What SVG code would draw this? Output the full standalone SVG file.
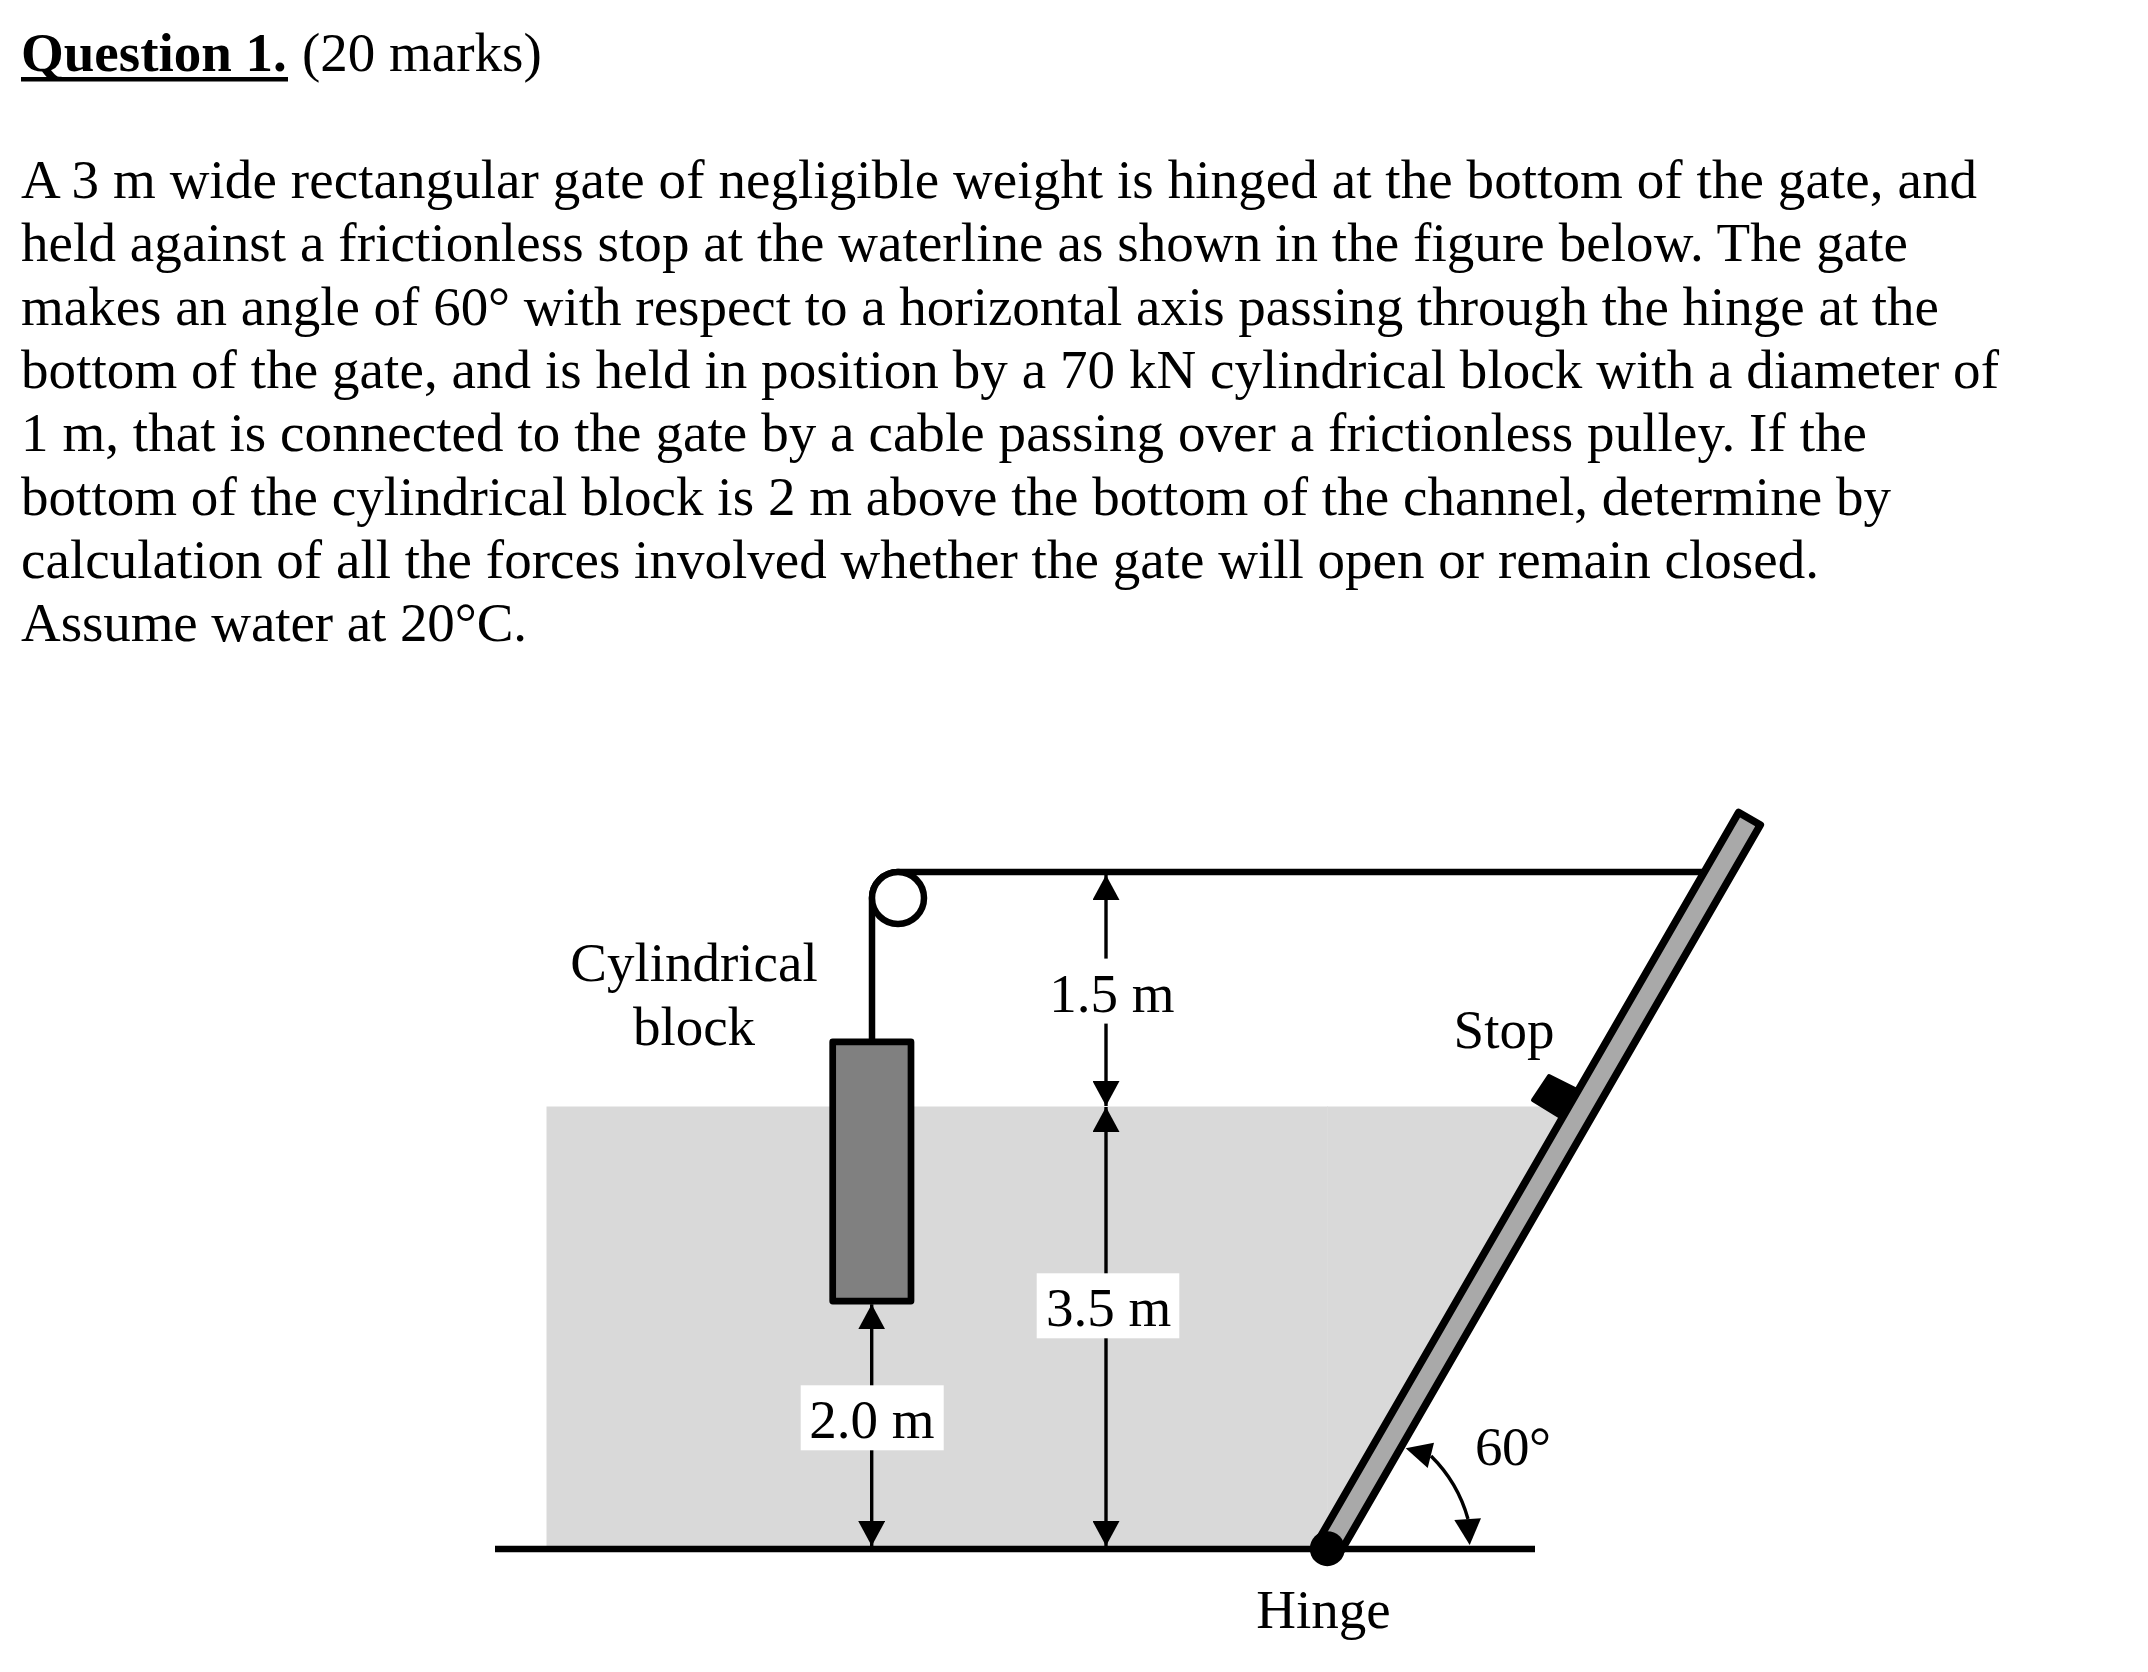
<svg xmlns="http://www.w3.org/2000/svg" width="2148" height="1672" viewBox="0 0 2148 1672">
<style>
text{font-family:"Liberation Serif","Times New Roman",serif;font-size:55px;fill:#000}
.b{font-weight:bold}
.m{text-anchor:middle}
.thick{fill:none;stroke:#000;stroke-width:6.5}
.dim{fill:none;stroke:#000;stroke-width:3.4}
.head{fill:#000}
</style>
<defs>
<marker id="ah" markerUnits="userSpaceOnUse" markerWidth="27" markerHeight="27" refX="25" refY="13.5" orient="auto-start-reverse" viewBox="0 0 27 27"><path d="M0 0L25 13.5L0 27Z" fill="#000"/></marker>
</defs>
<rect width="2148" height="1672" fill="#fff"/>
<g id="question">
<text class="b" x="21" y="71">Question 1.</text><rect x="21" y="77" width="267" height="4.5"/>
<text x="302" y="71">(20 marks)</text>
<text x="21" y="198" textLength="1956" lengthAdjust="spacing">A 3 m wide rectangular gate of negligible weight is hinged at the bottom of the gate, and</text>
<text x="21" y="261" textLength="1887" lengthAdjust="spacing">held against a frictionless stop at the waterline as shown in the figure below. The gate</text>
<text x="21" y="325" textLength="1918" lengthAdjust="spacing">makes an angle of 60° with respect to a horizontal axis passing through the hinge at the</text>
<text x="21" y="388" textLength="1978" lengthAdjust="spacing">bottom of the gate, and is held in position by a 70 kN cylindrical block with a diameter of</text>
<text x="21" y="451" textLength="1846" lengthAdjust="spacing">1 m, that is connected to the gate by a cable passing over a frictionless pulley. If the</text>
<text x="21" y="515" textLength="1870" lengthAdjust="spacing">bottom of the cylindrical block is 2 m above the bottom of the channel, determine by</text>
<text x="21" y="578" textLength="1798" lengthAdjust="spacing">calculation of all the forces involved whether the gate will open or remain closed.</text>
<text x="21" y="641" textLength="506" lengthAdjust="spacing">Assume water at 20°C.</text>
</g>
<g id="water"><path d="M546.5 1106.5H1582.6L1327.3 1549H546.5Z" fill="#d9d9d9"/><path d="M1327.5 1106.5V1549" stroke="#dcdcdc" stroke-width="1"/></g>
<g id="ground"><path class="thick" d="M495 1549H1535"/></g>
<g id="connectors">
<path id="cable" class="thick" d="M872 1040V898A26 26 0 0 1 898 872H1702"/>
<path class="dim" d="M1106 875V958.6" marker-start="url(#ah)"/>
<path class="dim" d="M1106 1023.6V1106" marker-end="url(#ah)"/>
<path class="dim" d="M1106 1107V1546" marker-start="url(#ah)" marker-end="url(#ah)"/>
<path class="dim" d="M871.7 1304.3V1546" marker-start="url(#ah)" marker-end="url(#ah)"/>
<path class="dim" d="M1431 1456A142 142 0 0 1 1468 1519"/>
<path class="head" d="M1405.7 1448.3L1434 1442.7L1427.7 1468Z"/>
<path class="head" d="M1469.7 1545L1454.3 1520L1481 1518.3Z"/>
</g>
<g id="pulley"><circle cx="898" cy="898" r="26" fill="#fff" stroke="#000" stroke-width="6.5"/></g>
<g id="block"><rect x="832.7" y="1041.9" width="78.3" height="259.2" fill="#808080" stroke="#000" stroke-width="6.7" stroke-linejoin="round"/></g>
<g id="stop"><path d="M1549 1076L1533 1100L1559 1116L1575 1089Z" fill="#000" stroke="#000" stroke-width="4" stroke-linejoin="round"/></g>
<g id="gate"><rect x="0" y="-12.5" width="843" height="25" transform="translate(1328 1548.7) rotate(-60)" fill="#a9a9a9" stroke="#000" stroke-width="7.5" stroke-linejoin="round"/></g>
<g id="hinge"><circle cx="1327.3" cy="1548.7" r="17.5" fill="#000"/></g>
<g id="labels">
<text class="m" x="694" y="981">Cylindrical</text>
<text class="m" x="694" y="1044.5">block</text>
<text class="m" x="1112" y="1011.5">1.5 m</text>
<rect x="1036.7" y="1273.3" width="142.6" height="65" fill="#fff"/>
<text class="m" x="1108.7" y="1326">3.5 m</text>
<rect x="800.7" y="1385.3" width="143" height="65" fill="#fff"/>
<text class="m" x="872" y="1437.7">2.0 m</text>
<text class="m" x="1504" y="1048">Stop</text>
<text class="m" x="1323.5" y="1627.5">Hinge</text>
<text x="1475" y="1465" textLength="76" lengthAdjust="spacing">60°</text>
</g>
</svg>
